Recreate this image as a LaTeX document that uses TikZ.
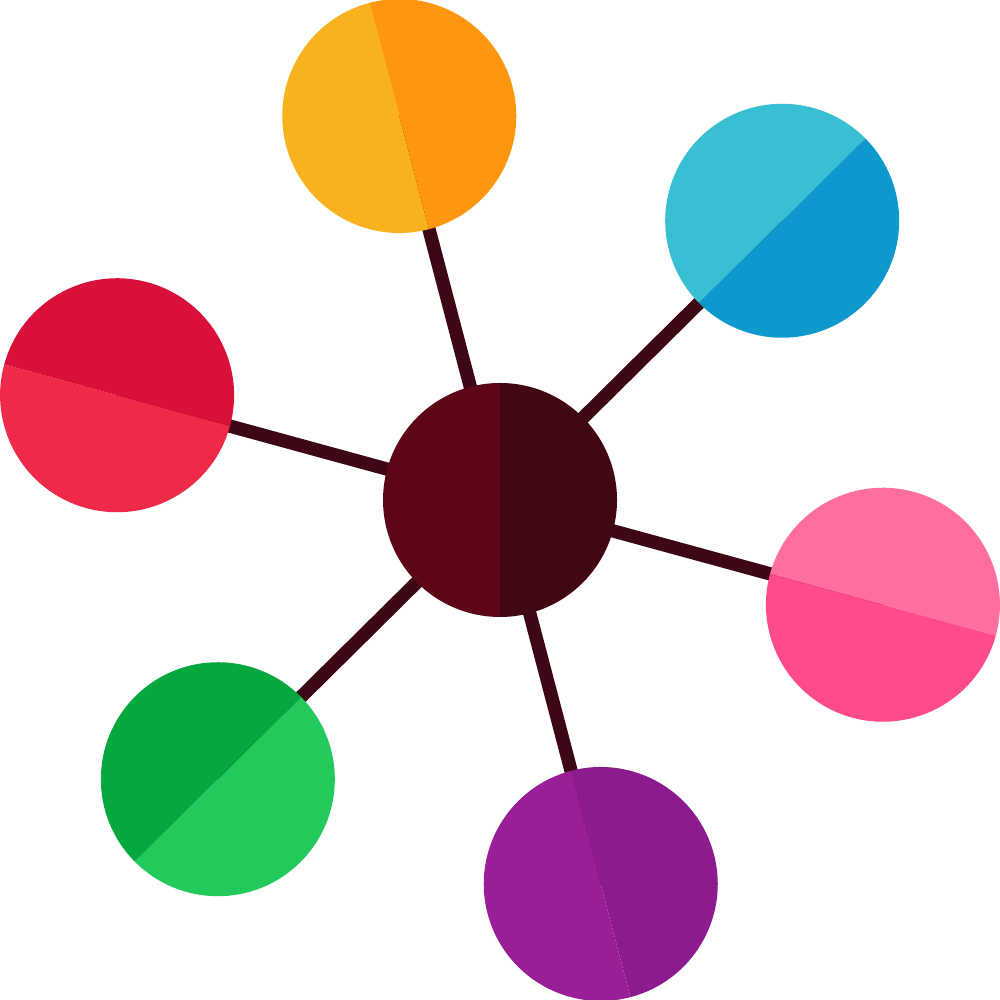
\documentclass[tikz,border=0pt]{standalone}
\definecolor{spoke}{HTML}{3E0716}
\definecolor{hubL}{HTML}{5C0617}
\definecolor{hubR}{HTML}{410813}
\definecolor{yellowL}{HTML}{F7B21E}
\definecolor{yellowR}{HTML}{FF9610}
\definecolor{cyanL}{HTML}{38BFD4}
\definecolor{cyanR}{HTML}{0E99CE}
\definecolor{pinkL}{HTML}{FF6E9F}
\definecolor{pinkR}{HTML}{FF4A8C}
\definecolor{purpleL}{HTML}{8B1B8E}
\definecolor{purpleR}{HTML}{9B1E99}
\definecolor{greenL}{HTML}{22C95B}
\definecolor{greenR}{HTML}{05A83C}
\definecolor{redL}{HTML}{EE2A48}
\definecolor{redR}{HTML}{D8103A}
\begin{document}
\begin{tikzpicture}[scale=1.0]
    \useasboundingbox (0,0) rectangle (10,10);
    % Hub and ball centres
    \coordinate (hub) at (5, 5);
    \foreach \a/\n in {-15.3/pink, 44.7/cyan, 104.7/yellow, 164.7/red, 224.7/green, 284.7/purple}
        \coordinate (\n) at ([shift={(\a:3.97)}]hub);
    % Draw spokes
    \foreach \n in {pink, cyan, yellow, red, green, purple}
        \draw [line width=3.8pt, spoke] (hub) -- (\n);
    % Two-tone balls
    \foreach \a/\n in {-15.3/pink, 44.7/cyan, 104.7/yellow, 164.7/red, 224.7/green, 284.7/purple} {
        \fill [\n L] (\n) ++(\a:1.17) arc[start angle=\a, end angle=\a+180, radius=1.17] -- cycle;
        \fill [\n R] (\n) ++(\a+180:1.17) arc[start angle=\a+180, end angle=\a+360, radius=1.17] -- cycle;
    }
    \fill [hubL] (hub) ++(90:1.17) arc[start angle=90, end angle=270, radius=1.17] -- cycle;
    \fill [hubR] (hub) ++(270:1.17) arc[start angle=270, end angle=450, radius=1.17] -- cycle;
\end{tikzpicture}
\end{document}
